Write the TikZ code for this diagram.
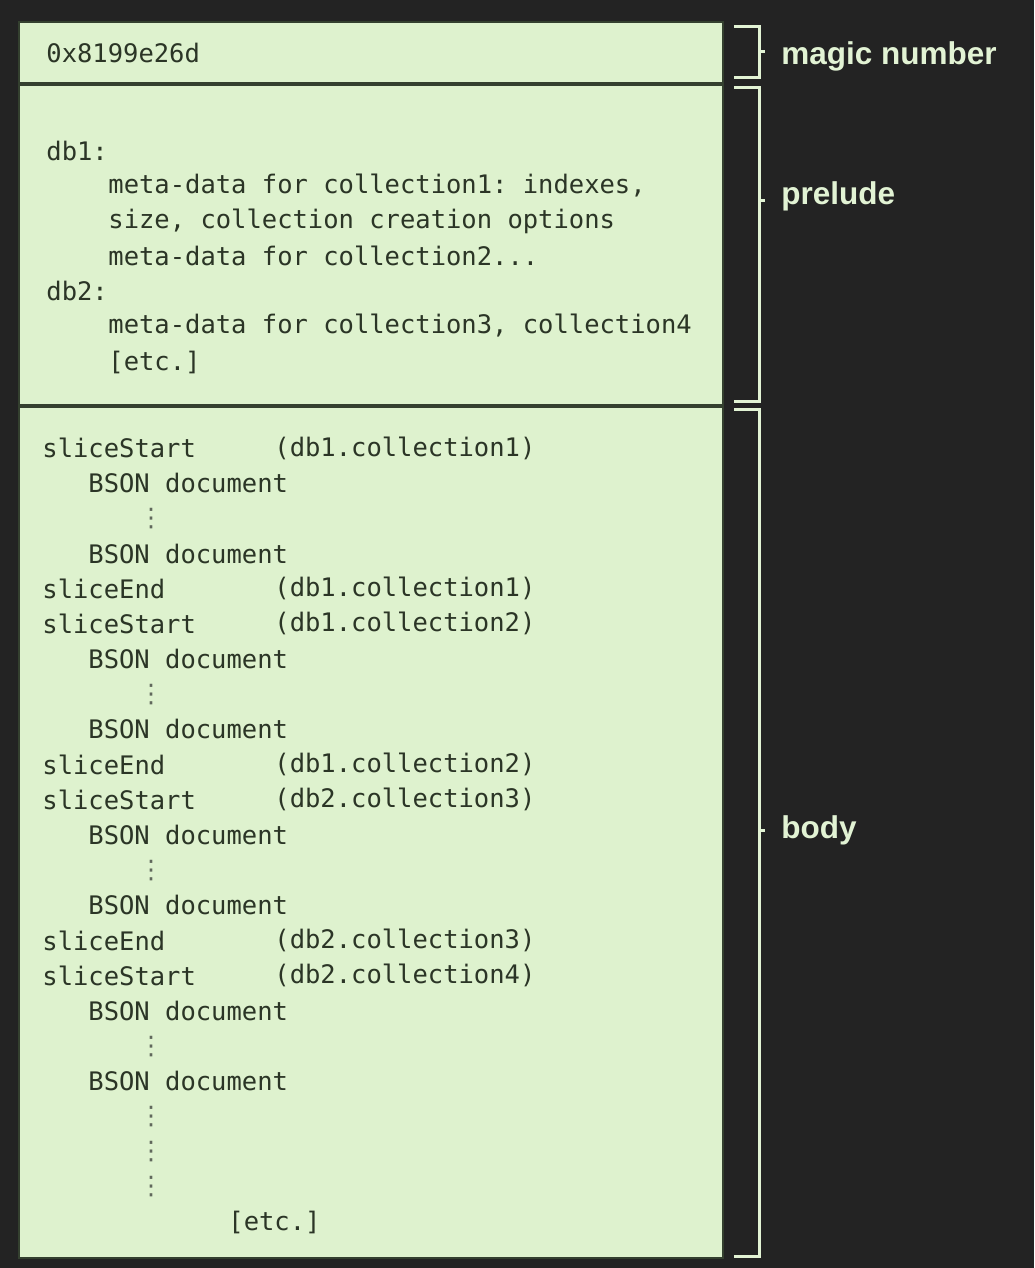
\documentclass[tikz,border=0pt]{standalone}
\usepackage{fontspec}
\setmainfont{Liberation Sans}
\setmonofont{DejaVu Sans Mono}
\newfontfamily\dotsfont{DejaVu Sans}
\usepackage{tikz}

\definecolor{bgdark}{HTML}{232323}
\definecolor{boxfill}{HTML}{DEF2CE}
\definecolor{boxline}{HTML}{34402F}
\definecolor{codetext}{HTML}{2B3526}
\definecolor{lightline}{HTML}{E2F3D4}

\begin{document}
\begin{tikzpicture}[x=0.5pt,y=-0.5pt,
	box/.style={fill=boxfill,draw=boxline,line width=1pt},
	code/.style={anchor=west,inner sep=0pt,text=codetext,font=\ttfamily\fontsize{12.75}{15}\selectfont},
	vdots/.style={inner sep=0pt,text=codetext!75,font=\dotsfont\fontsize{12.75}{15}\selectfont},
	brace/.style={draw=lightline,line width=1.5pt},
	lbl/.style={anchor=west,inner sep=0pt,text=lightline,font=\bfseries\fontsize{15.75}{18}\selectfont}]
	\fill[bgdark] (0,0) rectangle (1034,1268);
	
	% the three parts
	\draw[box] (19,22) rectangle (723,83);
	\draw[box] (19,85) rectangle (723,405);
	\draw[box] (19,407) rectangle (723,1258);
	
	% magic number
	\node[code] (magic) at (46,53) {0x8199e26d};
	
	% prelude
	\node[code] (db1) at (46,151) {db1:};
	\node[code] (meta1) at (108,186) {meta-data for collection1: indexes,};
	\node[code] (meta1b) at (108,221) {size, collection creation options};
	\node[code] (meta2) at (108,256) {meta-data for collection2...};
	\node[code] (db2) at (46,291) {db2:};
	\node[code] (meta3) at (108,326) {meta-data for collection3, collection4};
	\node[code] (etcA) at (108,362) {[etc.]};
	
	% body
	\foreach \k/\coll in {0/db1.collection1,1/db1.collection2,2/db2.collection3,3/db2.collection4} {
		\pgfmathsetmacro{\ys}{448+5*\k*35.18}
		\node[code] (start\k) at (42,\ys) {sliceStart};
		\node[code] (coll\k) at (274,\ys) {(\coll)};
		\node[code] (docA\k) at (88,\ys+35.18) {BSON document};
		\node[vdots] (gap\k) at (151,\ys+70.36) {⋮};
		\node[code] (docB\k) at (88,\ys+105.54) {BSON document};
		\ifnum\k<3
			\node[code] (end\k) at (42,\ys+140.72) {sliceEnd};
			\node[code] (collEnd\k) at (274,\ys+140.72) {(\coll)};
		\fi
	}
	\foreach \r in {19,20,21} {
		\node[vdots] (more\r) at (151,448+\r*35.18) {⋮};
	}
	\node[code] (etcB) at (228,1222) {[etc.]};
	
	% brackets
	\foreach \ya/\yb/\yt/\yl/\nm/\txt in {27/78/52/56/magic/magic number,88/401/200/196/prelude/prelude,409/1256/830/830/body/body} {
		\draw[brace] (734,\ya) -- (759,\ya) -- (759,\yb) -- (734,\yb);
		\draw[brace] (759,\yt) -- (765,\yt);
		\node[lbl] (lbl\nm) at (781,\yl) {\txt};
	}
	
\end{tikzpicture}
\end{document}
